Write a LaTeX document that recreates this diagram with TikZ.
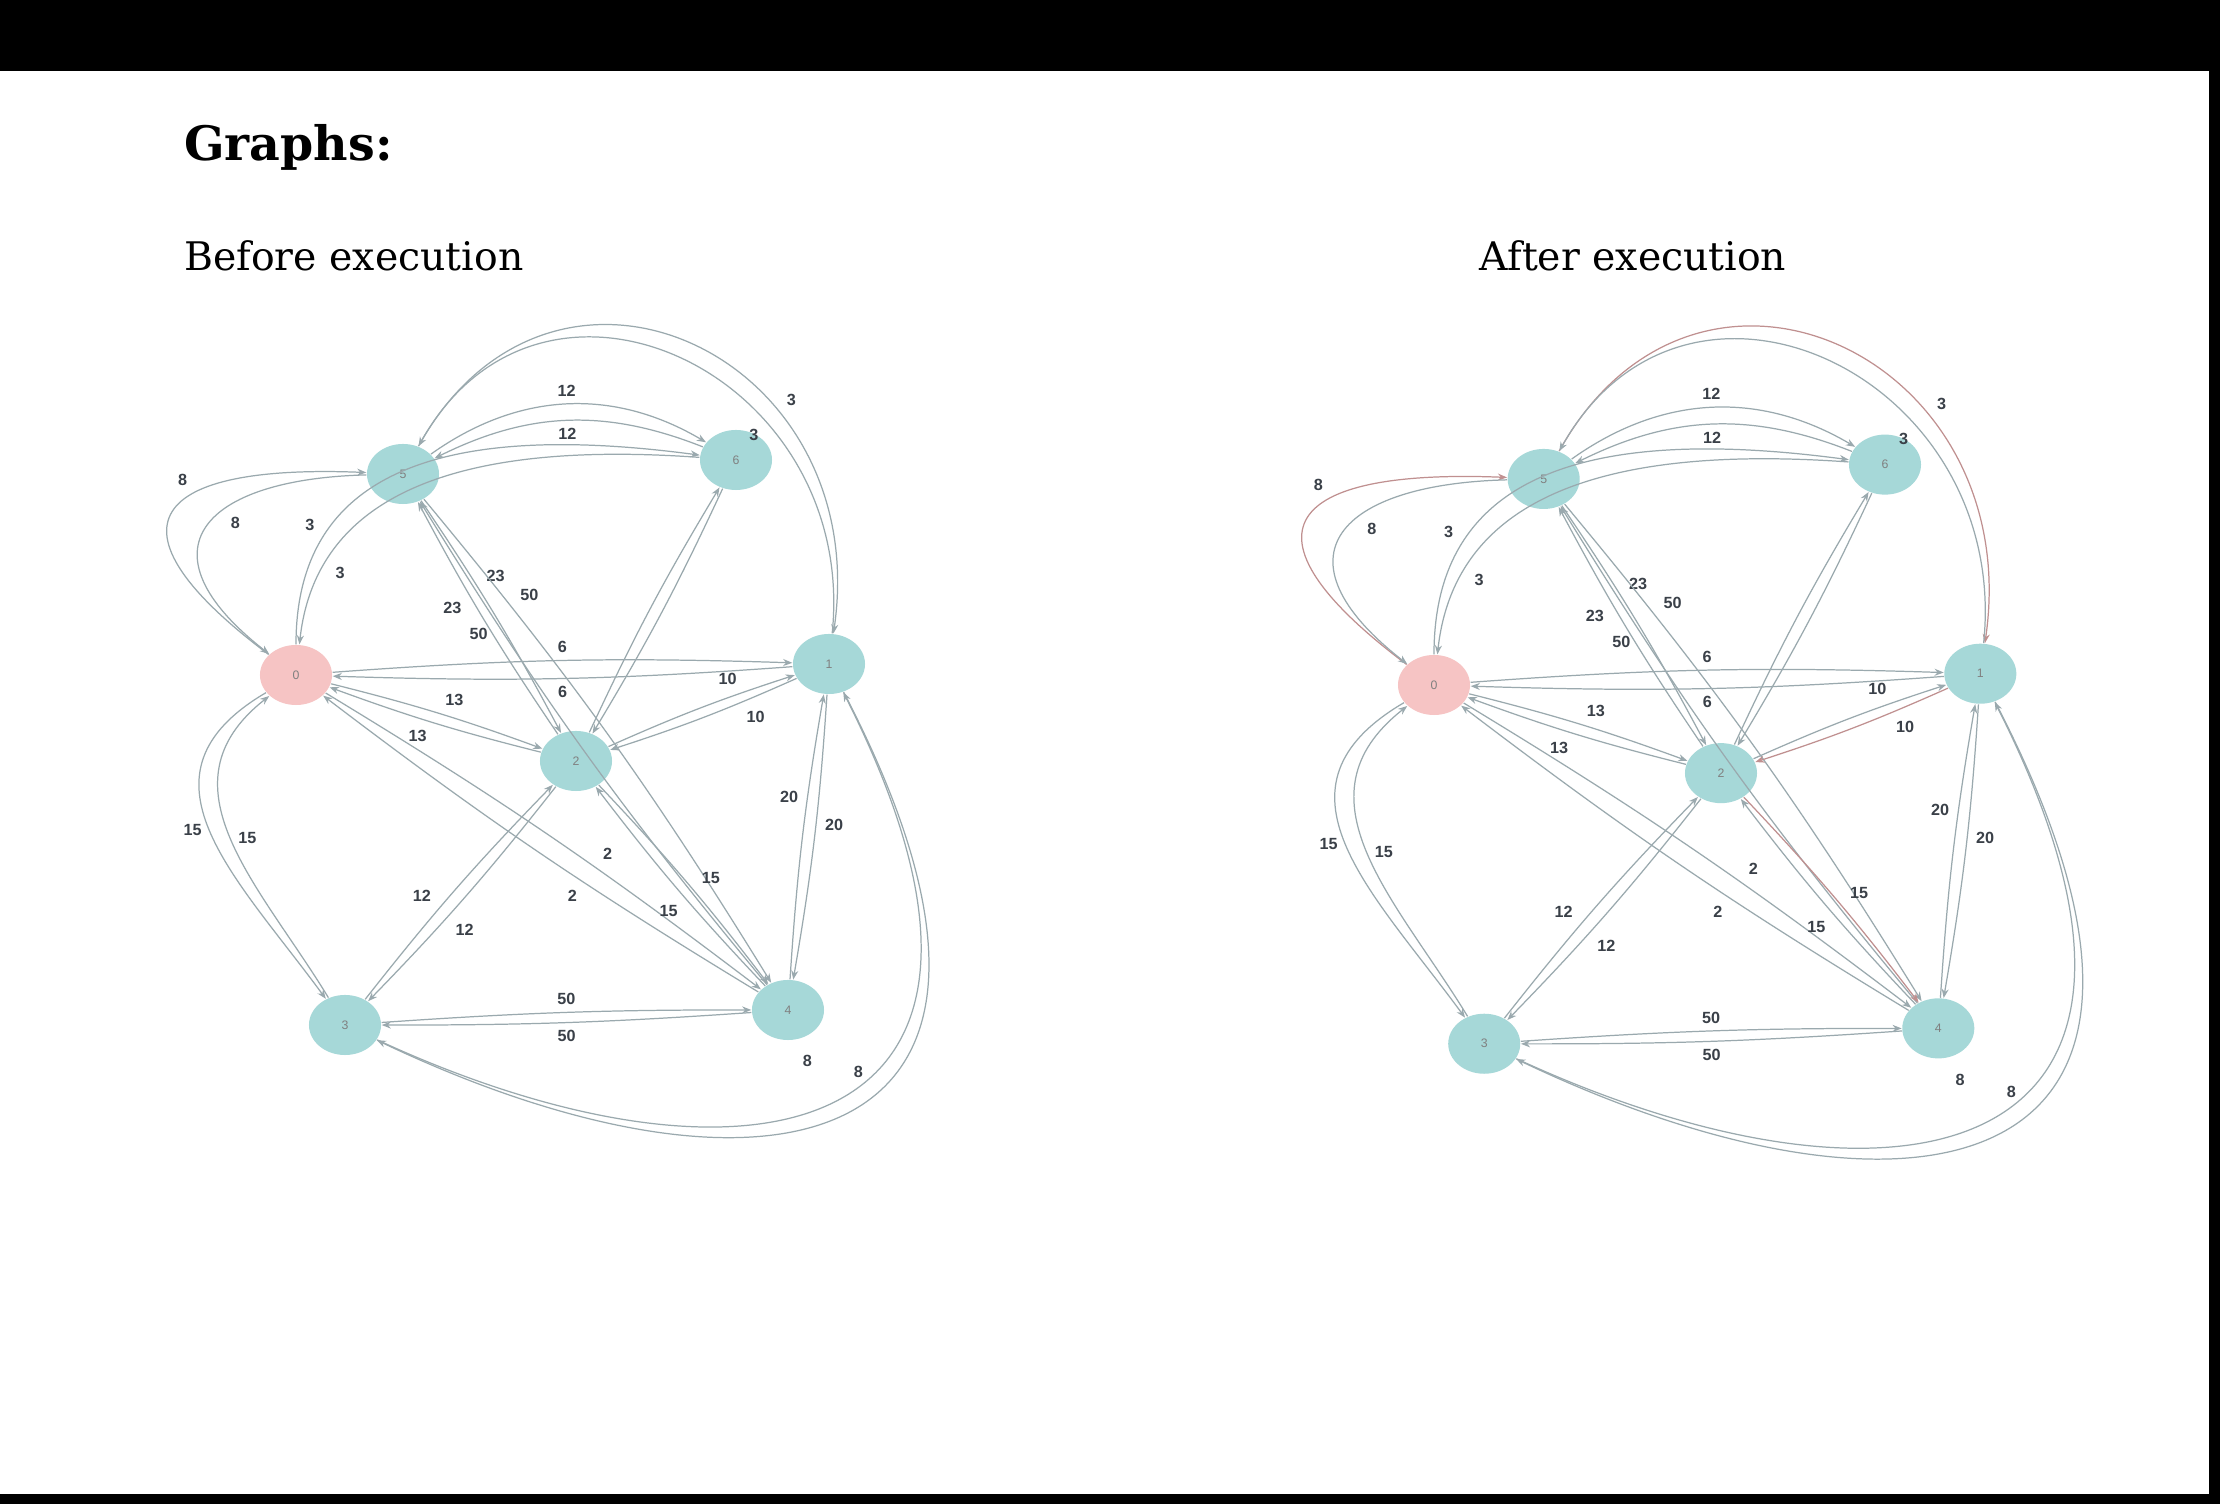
\documentclass[tikz,border=0pt]{standalone}
\usepackage{fontspec}
\setmainfont{DejaVu Serif}
\newfontfamily\labfont{Liberation Sans}
\usetikzlibrary{shapes.geometric,arrows.meta}
\definecolor{tealc}{HTML}{A6D8D8}
\definecolor{pinkc}{HTML}{F6C4C4}
\definecolor{edgec}{HTML}{9AA9AE}
\definecolor{labc}{HTML}{3A4048}
\definecolor{redc}{HTML}{C09090}
\tikzset{
 gn/.style={ellipse, fill=tealc, minimum width=0.72cm, minimum height=0.6cm, inner sep=0pt, font=\fontsize{3.5}{4}\labfont, text=gray},
 ed/.style={draw=edgec, line width=0.35pt, -{Stealth[length=2.6pt,width=2pt]}},
 lab/.style={font=\fontsize{4.6}{5}\labfont\bfseries, text=labc, inner sep=2pt},
 titletext/.style={font=\fontsize{13.5}{16}\selectfont\bfseries, anchor=west},
 subtext/.style={font=\fontsize{11.2}{13}\selectfont}
}
% #1 prefix, #2 highlight colour, #3 shift, #4 scale
\newcommand\mygraph[4]{%
\begin{scope}[shift={#3}, scale=#4]
\node[gn, fill=pinkc] (#10) at (0,0) {0};
\node[gn] (#15) at (107,-201) {5};
\node[gn] (#16) at (440,-215) {6};
\node[gn] (#11) at (533,-11) {1};
\node[gn] (#12) at (280,86) {2};
\node[gn] (#13) at (49,350) {3};
\node[gn] (#14) at (492,335) {4};
% 0-1
\draw[ed] (#10) to[bend left=3] node[lab,auto,pos=.5]{6} (#11);
\draw[ed] (#11) to[bend left=3] node[lab,auto,pos=.5]{6} (#10);
% 0-2
\draw[ed] (#10) to[bend left=3] node[lab,auto,pos=.5]{13} (#12);
\draw[ed] (#12) to[bend left=3] node[lab,auto,pos=.5]{13} (#10);
% 0-4
\draw[ed] (#10) to[bend left=3] node[lab,auto,pos=.62]{2} (#14);
\draw[ed] (#14) to[bend left=3] node[lab,auto,pos=.38]{2} (#10);
% 5-2
\draw[ed] (#15) to[bend left=3] node[lab,auto,pos=.38]{23} (#12);
\draw[ed] (#12) to[bend left=3] node[lab,auto,pos=.62]{23} (#15);
% 5-4
\draw[ed] (#15) to[bend left=4] node[lab,auto,pos=.22]{50} (#14);
\draw[ed] (#14) to[bend left=4] node[lab,auto,pos=.78]{50} (#15);
% 6-2
\draw[ed] (#16) to[bend left=3] (#12);
\draw[ed] (#12) to[bend left=3] (#16);
% 1-2
\draw[ed,draw=#2] (#11) to[bend left=3] node[lab,auto,pos=.3]{10} (#12);
\draw[ed] (#12) to[bend left=3] node[lab,auto,pos=.75]{10} (#11);
% 1-4
\draw[ed] (#11) to[bend left=3] node[lab,auto,pos=.4]{20} (#14);
\draw[ed] (#14) to[bend left=3] node[lab,auto,pos=.6]{20} (#11);
% 2-3
\draw[ed] (#12) to[bend left=3] node[lab,auto,pos=.6]{12} (#13);
\draw[ed] (#13) to[bend left=3] node[lab,auto,pos=.4]{12} (#12);
% 2-4
\draw[ed,draw=#2] (#12) to[bend left=3] node[lab,auto,pos=.55]{15} (#14);
\draw[ed] (#14) to[bend left=3] node[lab,auto,pos=.45]{15} (#12);
% 3-4
\draw[ed] (#13) to[bend left=2] node[lab,auto,pos=.5]{50} (#14);
\draw[ed] (#14) to[bend left=2] node[lab,auto,pos=.5]{50} (#13);
% 5-6
\draw[ed] (#15) to[bend left=33] node[lab,above,pos=.5]{12} (#16);
\draw[ed] (#16) to[bend right=24] node[lab,below,pos=.5]{12} (#15);
% 0-5 outer
\draw[ed,draw=#2] (#10) .. controls +(-200,-150) and +(-250,-10) .. node[lab,pos=.62,above left]{8} (#15);
\draw[ed] (#15) .. controls +(-200,5) and +(-160,-125) .. node[lab,pos=.4,below right]{8} (#10);
% 0-6
\draw[ed] (#10) .. controls +(0,-200) and +(-300,-40) .. node[lab,pos=.25,above left]{3} (#16);
\draw[ed] (#16) .. controls +(-280,-20) and +(20,-180) .. node[lab,pos=.78,below right]{3} (#10);
% 0-3
\draw[ed] (#10) .. controls +(-170,100) and +(-110,-150) .. node[lab,pos=.5,left]{15} (#13);
\draw[ed] (#13) .. controls +(-85,-140) and +(-140,110) .. node[lab,pos=.5,right]{15} (#10);
% 5-1 top
\draw[ed,draw=#2] (#15) .. controls +(150,-270) and +(45,-310) .. node[lab,pos=.68,above right]{3} (#11);
\draw[ed] (#11) .. controls +(30,-290) and +(140,-250) .. node[lab,pos=.33,below left]{3} (#15);
% 1-3 bottom
\draw[ed] (#11) .. controls +(260,500) and +(420,200) .. node[lab,pos=.4,xshift=-11pt]{8} (#13);
\draw[ed] (#13) .. controls +(400,185) and +(245,485) .. node[lab,pos=.6,xshift=-22pt]{8} (#11);
\end{scope}}
\begin{document}
\begin{tikzpicture}[x=0.01cm,y=-0.01cm]
\useasboundingbox (0,0) rectangle (2220,1504);
\fill[white] (0,0) rectangle (2220,1504);
\fill[black] (0,0) rectangle (2220,71);
\fill[black] (0,1494) rectangle (2220,1504);
\fill[black] (2209,0) rectangle (2220,1504);
\node[titletext] (title) at (172,147) {Graphs:};
\node[subtext, anchor=west] (before) at (172,256) {Before execution};
\node[subtext] (after) at (1633,256) {After execution};
\mygraph{L}{edgec}{(296,675)}{1}
\mygraph{R}{redc}{(1434,685)}{1.025}
\end{tikzpicture}
\end{document}
